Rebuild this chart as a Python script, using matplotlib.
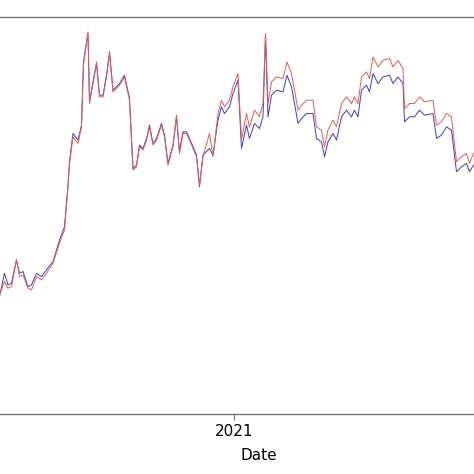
import matplotlib
matplotlib.use("Agg")
import matplotlib.pyplot as plt
import pandas as pd

# day offsets relative to 2021-01-01
days = [-469,-459,-452,-445,-435,-429,-422,-412,-405,-395,-385,-375,-362,-349,-339,-332,-329,-322,-312,-305,
        -301,-297,-292,-289,-282,-275,-269,-262,-255,-249,-242,-229,-219,-209,-202,-195,-189,-182,-175,-169,
        -162,-155,-145,-139,-132,-122,-115,-109,-102,-95,-89,-75,-69,-62,-49,-42,-32,-25,-19,-9,
        -2,8,15,25,31,41,51,58,63,68,75,85,98,106,115,121,128,135,145,158,
        165,175,181,188,198,205,215,225,235,241,248,255,265,271,278,288,298,311,318,328,
        338,341,351,361,371,381,398,405,415,425,435,445,455,465,471,479]
red = [35.8,39.8,37.8,38.3,46.3,41.3,41.8,37.8,37.3,41.3,40.3,42.3,45.3,51.3,55.3,68.3,75.3,83.3,81.3,86.3,105.3,109.3,114.8,93.3,99.3,105.8,95.3,95.3,101.3,108.3,96.8,98.8,101.3,94.3,73.3,74.3,80.3,79.3,82.3,86.3,80.8,82.3,86.8,83.3,74.8,80.3,89.8,78.3,84.3,84.3,82.3,77.3,68.8,77.3,84.3,77.3,90.3,94.3,92.3,94.3,98.3,102.3,82.3,90.3,86.3,91.3,89.3,93.3,114.3,93.3,99.8,101.3,100.8,105.8,102.3,97.3,91.3,92.8,94.3,94.3,86.3,85.3,80.3,85.3,88.3,86.3,93.3,95.3,93.3,95.3,93.3,101.3,102.8,100.8,107.3,104.3,106.3,106.8,104.3,106.3,103.8,91.8,93.3,93.3,95.3,93.8,94.3,86.8,87.8,90.3,89.3,75.8,77.3,78.3,75.3,78.3]
blue = [35.3,42.3,38.8,39.3,46.3,42.3,42.8,38.3,38.8,42.3,41.3,43.3,45.8,52.3,56.3,68.8,75.8,84.3,82.3,86.8,105.8,109.8,114.3,93.8,99.8,105.3,95.8,95.8,101.8,108.8,97.3,99.3,101.8,94.8,73.8,74.8,80.8,79.8,82.8,86.8,81.3,82.8,87.3,83.8,75.3,80.8,89.3,78.8,84.8,84.8,82.8,77.8,68.3,77.8,79.8,77.8,88.3,92.3,90.3,92.3,96.3,100.3,79.8,86.8,82.8,87.3,85.8,89.3,113.8,89.3,95.8,97.3,96.8,101.8,98.3,93.3,87.3,88.8,90.3,90.3,82.8,81.8,77.3,81.8,84.3,82.3,89.3,91.3,89.3,91.3,89.3,97.3,98.8,96.8,102.3,99.3,101.3,101.8,99.3,101.3,99.3,87.8,89.3,89.3,91.3,89.8,90.3,82.8,83.8,86.3,85.3,72.8,74.3,75.3,72.8,74.8]

base = pd.Timestamp("2021-01-01")
dates = [base + pd.Timedelta(days=d) for d in days]
n = min(len(dates), len(red), len(blue))

fig = plt.figure(figsize=(4.74, 4.74), dpi=100)
ax = fig.add_axes([-16/474, 1-414/474, 550/474, 397/474])
ax.plot(dates[:n], blue[:n], color="#3a3ad8", lw=0.7)
ax.plot(dates[:n], red[:n], color="#ef5a4a", lw=0.7)
ax.set_xlim(base - pd.Timedelta(days=500), base + pd.Timedelta(days=600))
ax.set_ylim(0, 119.3)
ax.set_xticks([base])
ax.set_xticklabels(["2021"], fontsize=11)
ax.set_yticks([])
ax.set_xlabel("Date", fontsize=11, labelpad=6)
for s in ax.spines.values():
    s.set_color("#777777")
    s.set_linewidth(1)
ax.tick_params(axis="x", color="#777777", length=4)
fig.savefig("out.png", dpi=100)
